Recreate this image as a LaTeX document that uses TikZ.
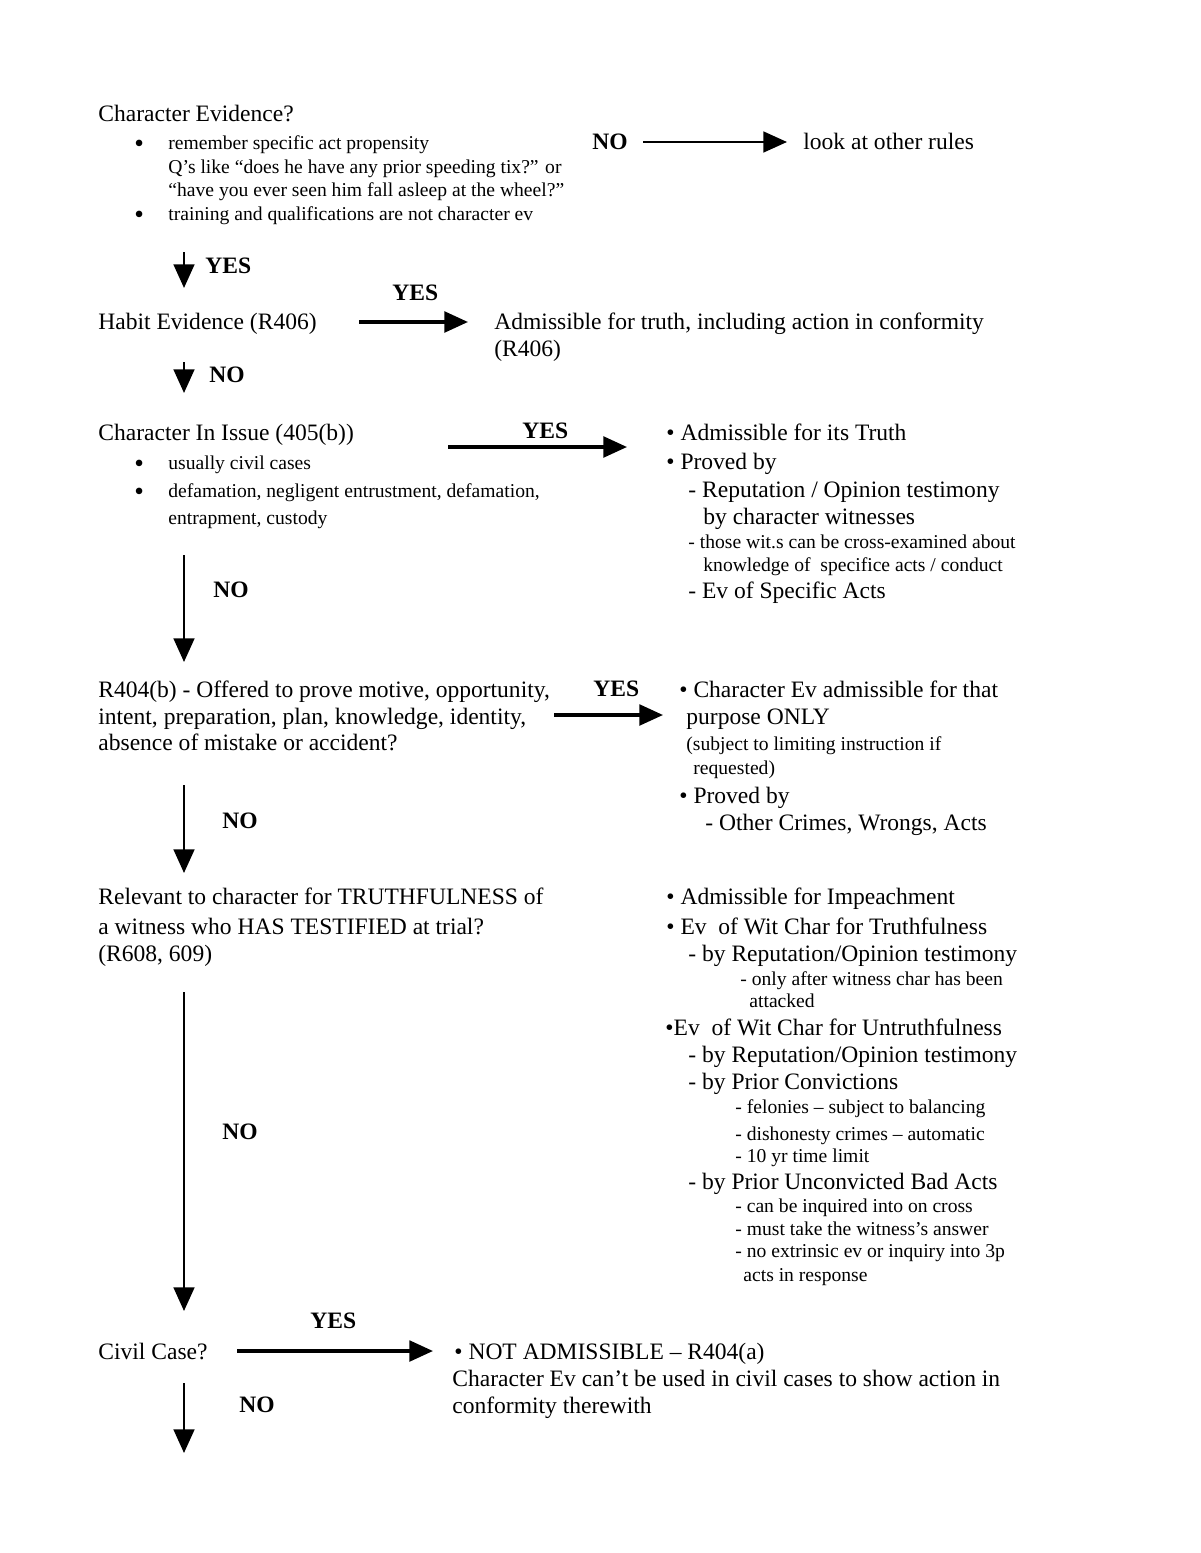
\documentclass[tikz,border=0pt]{standalone}
\usepackage{fontspec}
\setmainfont{Liberation Serif}
\usetikzlibrary{arrows.meta,positioning}

\tikzset{
  big/.style={font=\fontsize{12}{14}\selectfont, inner sep=0pt, anchor=base west},
  sm/.style={font=\fontsize{10}{12}\selectfont, inner sep=0pt, anchor=base west},
  dot/.style={font=\fontsize{14}{16}\selectfont, inner sep=0pt, anchor=base west},
  lbl/.style={font=\fontsize{12}{14}\selectfont\bfseries, inner sep=0pt, anchor=west},
  flow/.style={-{Triangle[length=12pt,width=10.5pt]}, line width=1.3pt},
}

\begin{document}
\begin{tikzpicture}[x=0.51pt, y=-0.51pt]
    \fill[white] (0,0) rectangle (1200,1553);
    \useasboundingbox (0,0) rectangle (1200,1553);

    % Questions on the left
    \node[big] (charev) at (98,122) {Character Evidence?};
    \node[big] (habit) at (98,329) {Habit Evidence (R406)};
    \node[big] (issue) at (98,440) {Character In Issue (405(b))};
    \node[big] (purpose) at (98,697) {R404(b) - Offered to prove motive, opportunity,};
    \node[big] (truth) at (98,904) {Relevant to character for TRUTHFULNESS of};
    \node[big] (civil) at (98,1359) {Civil Case?};
    \foreach \x/\y/\t [count=\i] in {98/724/{intent, preparation, plan, knowledge, identity,}, 98/750/{absence of mistake or accident?},
                                     98/934/{a witness who HAS TESTIFIED at trial?}, 98/961/{(R608, 609)}} {
      \node[big] (qline\i) at (\x,\y) {\t};
    }

    % Bulleted notes under the questions
    \foreach \y in {153, 224, 472, 500} {
      \node[dot] at (134,\y) {•};
    }
    \foreach \y/\t [count=\i] in {150/{remember specific act propensity}, 174/{Q’s like “does he have any prior speeding tix?” or},
                                  197/{“have you ever seen him fall asleep at the wheel?”}, 221/{training and qualifications are not character ev},
                                  469/{usually civil cases}, 497/{defamation, negligent entrustment, defamation,}, 524/{entrapment, custody}} {
      \node[sm] (note\i) at (168,\y) {\t};
    }

    % Outcomes on the right
    \node[big] (other) at (803,150) {look at other rules};
    \node[big] (habitres) at (494,329) {Admissible for truth, including action in conformity};
    \node[big] at (494,356) {(R406)};
    \node[big] (issueres) at (666,440) {• Admissible for its Truth};
    \node[big] (purposeres) at (679,697) {• Character Ev admissible for that};
    \node[big] (truthres) at (666,904) {• Admissible for Impeachment};
    \node[big] (civilres) at (454,1359) {• NOT ADMISSIBLE – R404(a)};

    \foreach \x/\y/\t [count=\i] in {666/469/{• Proved by}, 688/497/{- Reputation / Opinion testimony}, 703/524/{by character witnesses},
                                     688/598/{- Ev of Specific Acts},
                                     686/724/{purpose ONLY}, 679/803/{• Proved by}, 705/830/{- Other Crimes, Wrongs, Acts},
                                     666/934/{• Ev\ \ of Wit Char for Truthfulness}, 688/961/{- by Reputation/Opinion testimony},
                                     665/1035/{•Ev\ \ of Wit Char for Untruthfulness}, 688/1062/{- by Reputation/Opinion testimony},
                                     688/1089/{- by Prior Convictions}, 688/1189/{- by Prior Unconvicted Bad Acts},
                                     452/1386/{Character Ev can’t be used in civil cases to show action in}, 452/1413/{conformity therewith}} {
      \node[big] (res\i) at (\x,\y) {\t};
    }
    \foreach \x/\y/\t [count=\i] in {688/548/{- those wit.s can be cross-examined about}, 703/571/{knowledge of\ \ specifice acts / conduct},
                                     686/750/{(subject to limiting instruction if}, 693/774/{requested)},
                                     740/985/{- only after witness char has been}, 749/1007/{attacked},
                                     735/1113/{- felonies – subject to balancing}, 735/1140/{- dishonesty crimes – automatic},
                                     735/1162/{- 10 yr time limit},
                                     735/1212/{- can be inquired into on cross}, 735/1235/{- must take the witness’s answer},
                                     735/1257/{- no extrinsic ev or inquiry into 3p}, 743/1281/{acts in response}} {
      \node[sm] (sub\i) at (\x,\y) {\t};
    }

    % Arrow ends
    \coordinate (nostart) at (643,142);  \coordinate (noend) at (787,142);
    \coordinate (v1a) at (184,252);  \coordinate (v1b) at (184,288);
    \coordinate (h1a) at (359,322);  \coordinate (h1b) at (468,322);
    \coordinate (v2a) at (184,362);  \coordinate (v2b) at (184,393);
    \coordinate (h2a) at (448,447);  \coordinate (h2b) at (627,447);
    \coordinate (v3a) at (184,555);  \coordinate (v3b) at (184,662);
    \coordinate (h3a) at (554,715);  \coordinate (h3b) at (663,715);
    \coordinate (v4a) at (184,785);  \coordinate (v4b) at (184,873);
    \coordinate (v5a) at (184,992);  \coordinate (v5b) at (184,1311);
    \coordinate (h4a) at (237,1351); \coordinate (h4b) at (433,1351);
    \coordinate (v6a) at (184,1383); \coordinate (v6b) at (184,1453);

    % Draw arrows
    \foreach \a/\b in {nostart/noend, v1a/v1b, v2a/v2b, v3a/v3b, v4a/v4b, v5a/v5b, v6a/v6b} {
      \draw[flow] (\a) -- (\b);
    }
    \foreach \a/\b in {h1a/h1b, h2a/h2b, h3a/h3b, h4a/h4b} {
      \draw[flow, line width=1.7pt] (\a) -- (\b);
    }

    % YES / NO labels
    \foreach \x/\y/\t in {592/142/NO, 205/266/YES, 392/293/YES, 209/375/NO, 522/431/YES, 213/590/NO,
                          593/689/YES, 222/821/NO, 222/1132/NO, 310/1321/YES, 239/1405/NO} {
      \node[lbl] at (\x,\y) {\t};
    }
\end{tikzpicture}
\end{document}
